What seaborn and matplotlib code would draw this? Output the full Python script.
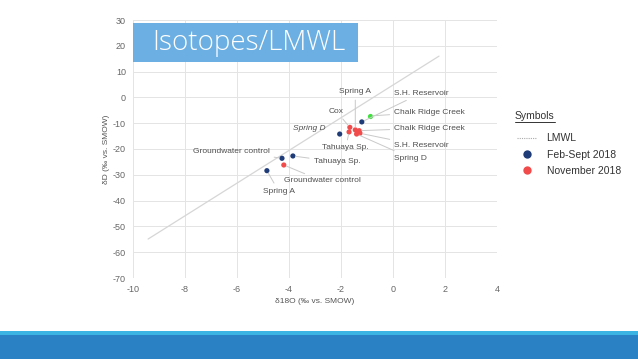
import numpy as np
import pandas as pd
import matplotlib
matplotlib.use('Agg')
import matplotlib.pyplot as plt
from matplotlib.lines import Line2D
from matplotlib.patches import Rectangle
import seaborn as sns

# LMWL end points
lmwl_x = [-9.42, 1.77]
lmwl_y = [-54.9, 16.0]

# Feb-Sept 2018 samples
feb_names = ['Spring A', 'Groundwater control', 'Tahuaya Sp.', 'Spring D', 'S.H. Reservoir']
feb_x = [-4.85, -4.27, -3.85, -2.05, -1.20]
feb_y = [-28.4, -23.6, -22.7, -14.2, -9.5]

# November 2018 samples
nov_names = ['Groundwater control', 'Cox', 'Tahuaya Sp.', 'Spring A', 'Chalk Ridge Creek', 'Spring D', 'S.H. Reservoir']
nov_x = [-4.20, -1.66, -1.69, -1.45, -1.30, -1.40, -1.27]
nov_y = [-26.2, -11.6, -13.4, -12.6, -12.9, -14.2, -13.9]

# extra point (green)
crc_x = [-0.89]
crc_y = [-7.2]

x_ticks = [-10, -8, -6, -4, -2, 0, 2, 4]
y_ticks = [30, 20, 10, 0, -10, -20, -30, -40, -50, -60, -70]

df = pd.DataFrame({
    'd18O': feb_x + nov_x,
    'dD': feb_y + nov_y,
    'period': ['Feb-Sept 2018'] * len(feb_x) + ['November 2018'] * len(nov_x),
    'name': feb_names + nov_names,
})

sns.set_style('white')
plt.rcParams['font.family'] = ['Liberation Sans', 'DejaVu Sans']
plt.rcParams['axes.unicode_minus'] = False

fig = plt.figure(figsize=(6.38, 3.59), dpi=100)
ax = fig.add_axes([133 / 638, 1 - 278 / 359, 364 / 638, 258 / 359])

grid_c = '#e4e4e4'
sns.lineplot(x=lmwl_x, y=lmwl_y, ax=ax, color='#d6d6d6', lw=0.9, legend=False)
palette = {'Feb-Sept 2018': '#1f3b78', 'November 2018': '#f24b4b'}
sns.scatterplot(data=df, x='d18O', y='dD', hue='period', palette=palette,
                s=14, linewidth=0, ax=ax, legend=False, zorder=3)
sns.scatterplot(x=crc_x, y=crc_y, color='#3ee03e', s=14, linewidth=0, ax=ax, zorder=3)

ax.set_xlim(-10, 4)
ax.set_ylim(-70, 30)
ax.set_xticks(x_ticks)
ax.set_yticks(y_ticks)
ax.grid(True, color=grid_c, lw=0.7)
for s in ax.spines.values():
    s.set_visible(False)
ax.tick_params(length=0, labelsize=6.5, labelcolor='#666666', pad=5)
ax.set_xlabel('δ18O (‰ vs. SMOW)', fontsize=6, color='#555555', labelpad=3)
ax.set_ylabel('δD (‰ vs. SMOW)', fontsize=6, color='#555555', labelpad=2)

line_c = '#c9c9c9'
txt_c = '#505050'


def label(text, tx, ty, px=None, py=None, ha='left', style='normal'):
    if px is None:
        ax.text(tx, ty, text, ha=ha, va='center', fontsize=6, color=txt_c, style=style)
    else:
        ax.annotate(text, xy=(px, py), xytext=(tx, ty), ha=ha, va='center',
                    fontsize=6, color=txt_c, style=style,
                    arrowprops=dict(arrowstyle='-', color=line_c, lw=0.7,
                                    shrinkA=1, shrinkB=2))


# Feb-Sept labels
label('Groundwater control', -4.75, -20.8, feb_x[1], feb_y[1], ha='right')
label('Spring A', -4.4, -36.3, feb_x[0], feb_y[0], ha='center')
label('Tahuaya Sp.', -3.05, -25.0, feb_x[2], feb_y[2])
label('Spring D', -2.6, -11.9, ha='right', style='italic')
label('S.H. Reservoir', 0.05, 1.7, feb_x[4], feb_y[4])

# November labels
label('Groundwater control', -4.2, -32.4, nov_x[0], nov_y[0])
label('Cox', -1.9, -5.3, nov_x[1], nov_y[1], ha='right')
label('Tahuaya Sp.', -1.82, -19.6, nov_x[2], nov_y[2], ha='center')
label('Spring A', -1.45, 2.1, nov_x[3], nov_y[3], ha='center')
label('Chalk Ridge Creek', 0.05, -11.9, nov_x[4], nov_y[4])
label('S.H. Reservoir', 0.05, -18.8, nov_x[6], nov_y[6])
label('Spring D', 0.05, -23.5, nov_x[5], nov_y[5])
label('Chalk Ridge Creek', 0.05, -5.7, crc_x[0], crc_y[0])

# title box
fig.patches.append(Rectangle((133 / 638, 1 - 62 / 359), 225 / 638, 39 / 359,
                             transform=fig.transFigure, facecolor='#6cafe2',
                             edgecolor='none', zorder=5))
fig.text(249 / 638, 1 - 43 / 359, 'Isotopes/LMWL', family=['Open Sans', 'DejaVu Sans'],
         fontweight='light', fontsize=20, color='white', ha='center', va='center', zorder=6)

# legend
fig.text(515 / 638, 1 - 116 / 359, 'Symbols', fontsize=7.5, color='#333333',
         ha='left', va='center')
fig.add_artist(Line2D([515 / 638, 555 / 638], [1 - 121.5 / 359, 1 - 121.5 / 359],
                      color='#333333', lw=0.7, transform=fig.transFigure))
handles = [
    Line2D([], [], color='#aaaaaa', lw=0.8, ls=(0, (1, 1))),
    Line2D([], [], marker='o', color='none', markerfacecolor=palette['Feb-Sept 2018'],
           markeredgecolor='none', markersize=6),
    Line2D([], [], marker='o', color='none', markerfacecolor=palette['November 2018'],
           markeredgecolor='none', markersize=6),
]
fig.legend(handles, ['LMWL', 'Feb-Sept 2018', 'November 2018'], loc='upper left',
           bbox_to_anchor=(508 / 638, 1 - 124 / 359), frameon=False, fontsize=7.5,
           handlelength=1.9, handletextpad=0.9, labelspacing=0.6, labelcolor='#333333')

# bottom bar
fig.patches.append(Rectangle((0, 0), 1, 28 / 359, transform=fig.transFigure,
                             facecolor='#2a82c5', edgecolor='none'))
fig.patches.append(Rectangle((0, 24 / 359), 1, 4 / 359, transform=fig.transFigure,
                             facecolor='#3bb3e3', edgecolor='none'))

fig.savefig('out.png', dpi=100)
